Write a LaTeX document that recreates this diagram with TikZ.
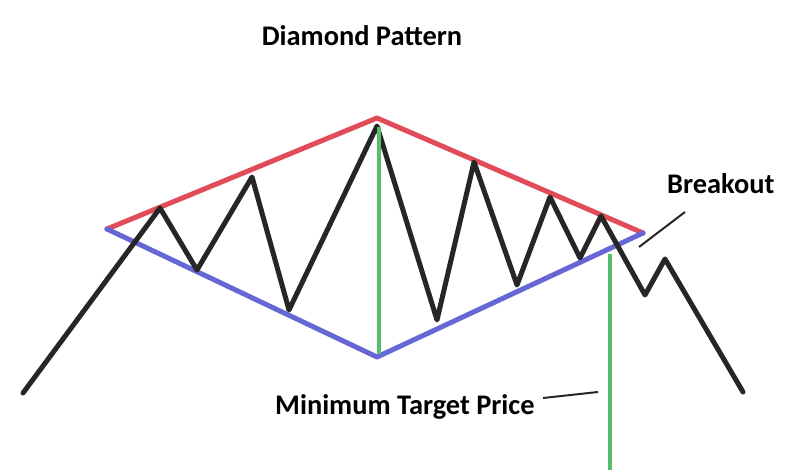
\documentclass[tikz,border=0pt]{standalone}
\usepackage{fontspec}
\setmainfont{Carlito}
\definecolor{topred}{RGB}{226,76,88}
\definecolor{botblue}{RGB}{102,102,212}
\definecolor{tgtgreen}{RGB}{84,190,110}

\begin{document}
\begin{tikzpicture}[x=1pt,y=-1pt]
      \tikzstyle{every node}+=[inner sep=0pt]
      \tikzstyle{lbl}=[font=\fontsize{28.4}{32}\selectfont\bfseries]
      \tikzstyle{edge}=[line width=5pt, line cap=round, line join=round]
      \useasboundingbox (0,0) rectangle (800,470);
      % diamond corners
      \coordinate (L) at (107,229);
      \coordinate (T) at (377,118);
      \coordinate (R) at (643,233);
      \coordinate (B) at (377,357);
      \draw [edge, topred] (L) -- (T) -- (R);
      \draw [edge, botblue] (L) -- (B) -- (R);
      % price
      \coordinate (p0) at (23,393);
      \coordinate (p1) at (160,208);
      \coordinate (p2) at (197,270);
      \coordinate (p3) at (252,177);
      \coordinate (p4) at (289,310);
      \coordinate (p5) at (377,126);
      \coordinate (p6) at (437,320);
      \coordinate (p7) at (474,162);
      \coordinate (p8) at (517,285);
      \coordinate (p9) at (550,197);
      \coordinate (p10) at (580,258);
      \coordinate (p11) at (601,216);
      \coordinate (p12) at (645,295);
      \coordinate (p13) at (665,259);
      \coordinate (p14) at (743,392);
      \draw [edge, black!85] (p0) -- (p1) -- (p2) -- (p3) -- (p4) -- (p5) -- (p6) -- (p7)
        -- (p8) -- (p9) -- (p10) -- (p11) -- (p12) -- (p13) -- (p14);
      % targets
      \coordinate (g1) at (379,127);
      \coordinate (g2) at (379,354);
      \coordinate (g3) at (610,254);
      \coordinate (g4) at (610,470);
      \draw [line width=4pt, tgtgreen] (g1) -- (g2);
      \draw [line width=4pt, tgtgreen] (g3) -- (g4);
      % labels
      \node [lbl, anchor=base] (title) at (362,46) {Diamond Pattern};
      \node [lbl, anchor=base west] (brk) at (667,194) {Breakout};
      \node [lbl, anchor=base west] (mtp) at (275,414) {Minimum Target Price};
      \coordinate (b1) at (639,247);
      \coordinate (b2) at (685,212);
      \coordinate (m1) at (543,398);
      \coordinate (m2) at (598,392);
      \draw [line width=2pt, black!85] (b1) -- (b2);
      \draw [line width=2pt, black!85] (m1) -- (m2);
    \end{tikzpicture}
\end{document}
